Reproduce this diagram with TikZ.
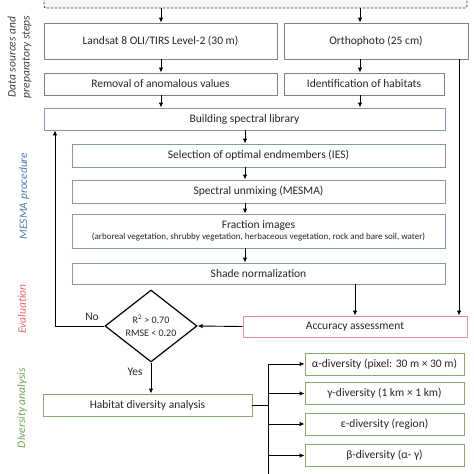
\documentclass[tikz,border=0pt]{standalone}
\usepackage{fontspec}
\setmainfont{Carlito}
\usetikzlibrary{arrows.meta,shapes.geometric,calc}
\definecolor{greyb}{HTML}{808080}
\definecolor{blueb}{HTML}{8496B0}
\definecolor{redb}{HTML}{E8909B}
\definecolor{greenb}{HTML}{8BA870}
\definecolor{txt}{HTML}{262626}
\definecolor{lblgrey}{HTML}{404040}
\definecolor{lblblue}{HTML}{4A7EBB}
\definecolor{lblred}{HTML}{E8656B}
\definecolor{lblgreen}{HTML}{70A64A}
\tikzset{
  box/.style={draw=#1, line width=0.9pt, fill=white, inner sep=0pt, text=txt,
    font=\fontsize{11.5}{13}\selectfont, align=center},
  arr/.style={draw=black, line width=0.9pt, -{Latex[length=5pt,width=4.5pt]}},
  ln/.style={draw=black, line width=0.9pt},
  side/.style={rotate=90, font=\fontsize{11.5}{14}\selectfont\itshape, align=center},
  lab/.style={font=\fontsize{11.5}{13}\selectfont, text=txt}
}
\begin{document}
\begin{tikzpicture}[x=1pt,y=-1pt]
\useasboundingbox (0,0) rectangle (474,474);
\clip (0,0) rectangle (474,474);
% source dashed box
\node[draw=black!80, dashed, dash pattern=on 2.5pt off 1.5pt, fill=gray!8, rounded corners=2pt,
  line width=0.8pt, minimum width=423pt, minimum height=30pt, inner sep=0pt] (src) at (255.5,-7) {};
% data sources
\node[box=greyb, minimum width=233pt, minimum height=36pt] (landsat) at (160.5,41) {Landsat 8 OLI/TIRS Level-2 (30 m)};
\node[box=greyb, minimum width=184pt, minimum height=36pt] (ortho) at (376,41) {Orthophoto (25 cm)};
\node[box=greyb, minimum width=233pt, minimum height=22pt] (removal) at (160.5,84) {Removal of anomalous values};
\node[box=greyb, minimum width=160pt, minimum height=22pt] (ident) at (364,84) {Identification of habitats};
% MESMA
\node[box=blueb, minimum width=401pt, minimum height=22pt] (build) at (244.5,119) {Building spectral library};
\node[box=blueb, minimum width=373pt, minimum height=23pt] (sel) at (258.5,155.5) {Selection of optimal endmembers (IES)};
\node[box=blueb, minimum width=373pt, minimum height=23pt] (unmix) at (258.5,191.5) {Spectral unmixing (MESMA)};
\node[box=blueb, minimum width=373pt, minimum height=34pt] (frac) at (258.5,231) {Fraction images\\[-1.5pt]{\fontsize{9}{10}\selectfont (arboreal vegetation, shrubby vegetation, herbaceous vegetation, rock and bare soil, water)}};
\node[box=blueb, minimum width=373pt, minimum height=21pt] (shade) at (258.5,273.5) {Shade normalization};
% evaluation
\node[box=redb, minimum width=224pt, minimum height=21pt] (acc) at (355,326.5) {Accuracy assessment};
\node[diamond, draw=black, line width=1.2pt, minimum width=92pt, minimum height=65pt, inner sep=0pt,
  align=center, text=txt, font=\fontsize{10}{13}\selectfont] (dia) at (151,326) {R\textsuperscript{2} > 0.70\\RMSE < 0.20};
% diversity
\node[box=greenb, minimum width=209pt, minimum height=22pt] (hab) at (147.5,405) {Habitat diversity analysis};
\node[box=greenb, minimum width=159pt, minimum height=22pt] (alpha) at (384.5,364) {α-diversity (pixel: 30 m × 30 m)};
\node[box=greenb, minimum width=159pt, minimum height=22pt] (gamma) at (384.5,393.5) {γ-diversity (1 km × 1 km)};
\node[box=greenb, minimum width=159pt, minimum height=22pt] (eps) at (384.5,424) {ε-diversity (region)};
\node[box=greenb, minimum width=159pt, minimum height=22pt] (beta) at (384.5,455.5) {β-diversity (α- γ)};
% helper coordinates
\coordinate (cA) at (161,0);
\coordinate (cB) at (360,0);
\coordinate (cM) at (245,0);
\coordinate (cR) at (459,0);
\coordinate (cL) at (55,0);
\coordinate (cD) at (268,0);
\coordinate (bot) at (268,476);
% connectors
\draw[arr] (src.south -| cA) -- (landsat.north -| cA);
\draw[arr] (src.south -| cB) -- (ortho.north -| cB);
\draw[arr] (landsat.south -| cA) -- (removal.north -| cA);
\draw[arr] (ortho.south -| cB) -- (ident.north -| cB);
\draw[arr] (removal.south -| cA) -- (build.north -| cA);
\draw[arr] (ident.south -| cB) -- (build.north -| cB);
\draw[arr] (build.south -| cM) -- (sel.north -| cM);
\draw[arr] (sel.south -| cM) -- (unmix.north -| cM);
\draw[arr] (unmix.south -| cM) -- (frac.north -| cM);
\draw[arr] (frac.south -| cM) -- (shade.north -| cM);
\draw[arr] (shade.south -| acc.north) -- (acc.north);
\draw[arr] (ortho.south -| cR) -- (acc.north -| cR);
\draw[arr] (acc.west) -- (dia.east);
\draw[arr] (dia.west) -| (build.south -| cL);
\draw[arr] (dia.south) -- (dia.south |- hab.north);
\draw[ln] (hab.east) -- (hab.east -| cD);
\draw[ln] (alpha.west -| cD) -- (bot);
\draw[arr] (alpha.west -| cD) -- (alpha.west);
\draw[arr] (gamma.west -| cD) -- (gamma.west);
\draw[arr] (eps.west -| cD) -- (eps.west);
\draw[arr] (beta.west -| cD) -- (beta.west);
% labels
\node[lab] (no) at (92,317) {No};
\node[lab] (yes) at (135,372) {Yes};
\node[side, text=lblgrey] (l1) at (19.5,57) {Data sources and\\preparatory steps};
\node[side, text=lblblue] (l2) at (24,196) {MESMA procedure};
\node[side, text=lblred] (l3) at (22,309) {Evaluation};
\node[side, text=lblgreen] (l4) at (22,408) {Diversity analysis};
\end{tikzpicture}
\end{document}
